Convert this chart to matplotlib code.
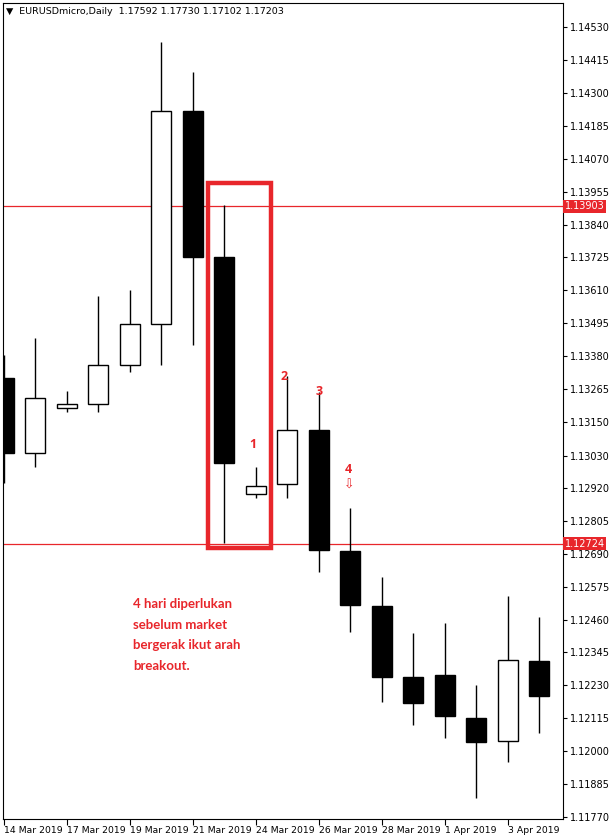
import matplotlib
matplotlib.use("Agg")
import matplotlib.pyplot as plt
from matplotlib.patches import Rectangle

dates = ["14 Mar 2019", "15 Mar 2019", "17 Mar 2019", "18 Mar 2019", "19 Mar 2019", "20 Mar 2019",
         "21 Mar 2019", "22 Mar 2019", "24 Mar 2019", "25 Mar 2019", "26 Mar 2019", "27 Mar 2019",
         "28 Mar 2019", "29 Mar 2019", "1 Apr 2019", "2 Apr 2019", "3 Apr 2019", "4 Apr 2019"]
opens  = [1.13304, 1.13042, 1.13199, 1.13213, 1.13349, 1.13492, 1.14237, 1.13726, 1.12898,
          1.12933, 1.13122, 1.12699, 1.12507, 1.12259, 1.12266, 1.12116, 1.12035, 1.12315]
highs  = [1.13384, 1.13443, 1.13258, 1.13590, 1.13611, 1.14478, 1.14373, 1.13908, 1.12993,
          1.13311, 1.13255, 1.12850, 1.12608, 1.12413, 1.12448, 1.12231, 1.12542, 1.12469]
lows   = [1.12937, 1.12993, 1.13185, 1.13185, 1.13325, 1.13349, 1.13419, 1.12727, 1.12884,
          1.12884, 1.12626, 1.12416, 1.12172, 1.12091, 1.12046, 1.11836, 1.11962, 1.12063]
closes = [1.13042, 1.13234, 1.13213, 1.13349, 1.13492, 1.14237, 1.13726, 1.13007, 1.12926,
          1.13122, 1.12703, 1.12511, 1.12259, 1.12168, 1.12123, 1.12032, 1.12319, 1.12193]
ytick_labels = ["1.14530", "1.14415", "1.14300", "1.14185", "1.14070", "1.13955", "1.13840",
                "1.13725", "1.13610", "1.13495", "1.13380", "1.13265", "1.13150", "1.13030",
                "1.12920", "1.12805", "1.12690", "1.12575", "1.12460", "1.12345", "1.12230",
                "1.12115", "1.12000", "1.11885", "1.11770"]
level_lines = [1.13903, 1.12724]
box_x = [6.48, 8.5]
box_y = [1.12710, 1.13985]
markers = ["1", "2", "3", "4"]
marker_x = [7.9, 8.9, 10.0, 10.95]
marker_y = [1.13070, 1.13310, 1.13255, 1.12983]
note = "4 hari diperlukan\nsebelum market\nbergerak ikut arah\nbreakout."

fig = plt.figure(figsize=(6.12, 8.4), dpi=100)
ax = fig.add_axes([3/612, 21/840, 560/612, 816/840])
ax.set_xlim(-0.02, 17.75)
ax.set_ylim(1.11763, 1.14614)

w = 0.63
for i in range(len(opens)):
    o, h, l, c = opens[i], highs[i], lows[i], closes[i]
    ax.vlines(i, l, h, color="black", lw=1, zorder=2)
    lo, hi = min(o, c), max(o, c)
    ax.add_patch(Rectangle((i - w/2, lo), w, max(hi - lo, 0.00002),
                           facecolor="white" if c >= o else "black",
                           edgecolor="black", lw=1, zorder=3))

for lv in level_lines:
    ax.axhline(lv, color="#e8262b", lw=0.9, zorder=1)
    ax.text(1.003, lv, f"{lv:.5f}", transform=ax.get_yaxis_transform(), ha="left", va="center",
            fontsize=7, color="white",
            bbox=dict(boxstyle="square,pad=0.15", fc="#e8262b", ec="none"))

ax.add_patch(Rectangle((box_x[0], box_y[0]), box_x[1]-box_x[0], box_y[1]-box_y[0],
                       fill=False, edgecolor="#e8262b", lw=3.2, zorder=4))

for t, x, y in zip(markers, marker_x, marker_y):
    ax.text(x, y, t, color="#e8262b", fontsize=9, fontweight="bold", ha="center", va="center",
            family="Open Sans")
ax.text(10.95, 1.12930, "⇩", color="#e8262b", fontsize=9, ha="center", va="center",
        family="DejaVu Sans")

ax.text(4.12, 1.12535, note, color="#e8262b", fontsize=9.5, fontweight="bold", ha="left",
        va="top", family="Lato", linespacing=1.85)

ax.text(0.006, 0.995, "▼  EURUSDmicro,Daily  1.17592 1.17730 1.17102 1.17203",
        transform=ax.transAxes, ha="left", va="top", fontsize=6.8, family="DejaVu Sans")

yt = [float(s) for s in ytick_labels]
ax.set_yticks(yt)
ax.set_yticklabels(ytick_labels)
ax.yaxis.tick_right()
ax.tick_params(axis="y", labelsize=7, length=3, pad=2)
ax.set_xticks(range(0, len(dates), 2))
ax.set_xticklabels(dates[::2], ha="left")
ax.tick_params(axis="x", labelsize=6.7, length=4, pad=1)
for s in ax.spines.values():
    s.set_linewidth(0.8)

fig.savefig("out.png", dpi=100)
